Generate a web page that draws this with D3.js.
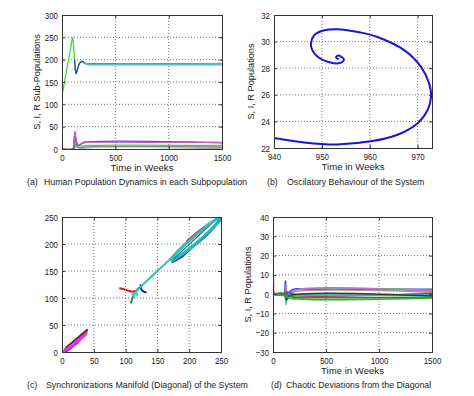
<!DOCTYPE html>
<html>
<head>
<meta charset="utf-8">
<script src="https://cdn.jsdelivr.net/npm/d3@7"></script>
<style>
body { margin: 0; background: #fff; }
svg text { font-family: "Liberation Sans", Arial, sans-serif; fill: #222; }
.grid line { stroke: #555; stroke-dasharray: 1,2; stroke-width: 0.8; }
.frame { fill: none; stroke: #333; stroke-width: 1; }
</style>
</head>
<body>
<svg id="chart" width="474" height="396"></svg>
<script>
// ---- panel (a): human population dynamics ----
const aTicksX = [0, 500, 1000, 1500];
const aTicksY = [0, 50, 100, 150, 200, 250, 300];
const aGreenS = [[0,120],[20,145],[50,185],[80,225],[100,250],[110,225],[122,185],[132,170],[145,180],[165,193],[185,196],[205,193],[230,190],[260,190],[1500,190]];
const aBlueS  = [[118,200],[125,180],[132,168],[145,178],[165,192],[190,196],[215,192],[250,191],[1500,191]];
const aGrayS  = [[200,193],[240,191],[1500,191.5]];
const aCyanS  = [[240,188.5],[1500,188.5]];
const aMagI   = [[0,0],[100,0],[108,5],[115,25],[122,40],[128,30],[138,15],[155,10],[180,12],[210,16],[240,15.5],[1500,15]];
const aBlueI  = [[0,0],[105,0],[112,10],[120,33],[127,25],[138,12],[160,8],[190,12],[220,15],[1500,14]];
const aGreenI = [[0,0],[100,0],[110,8],[118,30],[126,22],[140,8],[165,4],[200,7],[240,8],[1500,8]];
const aGrayI  = [[0,0],[110,0],[122,12],[140,5],[170,3],[220,4.5],[1500,4.5]];
const aGrayI2 = [[0,0],[120,2],[135,6],[160,2],[1500,2]];

// ---- panel (b): oscillatory behaviour ----
const bTicksX = [940, 950, 960, 970];
const bTicksY = [22, 24, 26, 28, 30, 32];
const bSpiral = [[940,22.75],[946.3,22.42],[953.2,22.27],[960.2,22.5],[965.8,23.0],[970,23.87],[972.1,24.87],[972.8,25.87],[972.4,26.86],[970.7,28.1],[967.2,29.36],[961.6,30.35],[958.1,30.68],[953.2,30.93],[950.5,30.85],[948.4,30.48],[947.7,29.86],[948.0,29.36],[949.1,28.86],[951.2,28.48],[953.2,28.36],[954.3,28.48],[954.6,28.66],[954.1,28.86],[953.2,28.93],[953,28.78],[953.5,28.66]];

// ---- panel (c): synchronization manifold ----
const cTicks = [0, 50, 100, 150, 200, 250];
const cBlue0   = [[0,0],[8,3],[16,10],[25,18]];
const cMag0    = [[2,1],[12,10],[25,22],[40,36]];
const cMag1    = [[1,0],[10,6],[22,16],[38,33]];
const cGreen0  = [[3,4],[15,15],[28,28],[40,40]];
const cRed0    = [[5,6],[18,19],[30,31],[41,42]];
const cBlack0  = [[6,8],[20,22],[32,34],[40,42]];
const cRedMid  = [[90,118],[98,116],[106,113],[112,112],[116,113]];
const cGreenMid= [[108,90],[111,100],[114,108],[118,115],[122,120]];
const cBlueMid = [[124,125],[124,118],[127,113],[133,110]];
const cCyanMid = [[110,108],[113,104],[116,110],[119,104]];
const cCyanDiag= [[112,106],[130,128],[150,150],[170,172],[190,195],[210,215],[230,235],[250,250]];
const cBlueUp  = [[172,167],[185,175],[205,195],[225,215],[245,240],[250,247]];
const cCyanUp1 = [[170,170],[185,190],[205,212],[225,232],[245,248]];
const cCyanUp2 = [[172,168],[190,182],[210,200],[230,222],[250,245]];
const cRedUp   = [[195,205],[210,220],[225,232]];
const cDarkUp  = [[175,172],[240,243]];

// ---- panel (d): deviations from the diagonal ----
const dTicksX = [0, 500, 1000, 1500];
const dTicksY = [-30, -20, -10, 0, 10, 20, 30, 40];
const dBlue   = [[0,3],[10,0.5],[100,0],[112,3],[118,7],[126,2],[140,-0.5],[170,2],[220,2.8],[330,2.6],[1500,2.5]];
const dGreen  = [[0,1],[10,0],[105,0],[115,2],[122,4],[130,1],[150,0],[200,2],[1500,2]];
const dMag    = [[0,2],[10,0],[108,0],[118,5],[126,0],[140,-2],[180,1.5],[1500,1.5]];
const dGray   = [[0,0],[110,0],[120,2],[135,-1],[180,1],[1500,1]];
const dRed    = [[0,10],[5,5],[12,0],[100,0],[120,1.5],[140,0],[1500,0.5]];
const dBlue2  = [[0,0],[110,0],[120,-2],[135,1],[200,0],[1500,0]];
const dCyan   = [[0,0],[110,0],[118,-3],[122,-5.5],[130,-2],[150,-0.5],[200,-0.5],[1500,-0.5]];
const dBlack  = [[0,0],[110,0],[120,-2],[130,-3],[145,-1],[1500,-1]];
const dDkGreen= [[0,0],[115,0],[125,-2],[140,-1],[200,-1.5],[1500,-1.5]];
const dGreen2 = [[0,0],[120,-1],[150,-2],[1500,-2]];

const svg = d3.select("#chart");
let clipN = 0;

// the original tick font is narrow; squeeze the glyphs to its width
function narrow(sel) {
  sel.attr("font-size", 9.5).attr("fill", "#222")
    .attr("lengthAdjust", "spacingAndGlyphs")
    .attr("textLength", function() {
      const s = this.textContent;
      return s.replace("-", "").length * 4.4 + (s.includes("-") ? 3 : 0);
    });
}

function panel(o) {
  const x = d3.scaleLinear().domain(o.xd).range([o.l, o.r]);
  const y = d3.scaleLinear().domain(o.yd).range([o.b, o.t]);
  const g = svg.append("g");

  // dotted grid at inner ticks
  const grid = g.append("g").attr("class", "grid");
  grid.selectAll(".gx").data(o.tx.filter(v => x(v) > o.l + 1 && x(v) < o.r - 1))
    .join("line").attr("class", "gx").attr("x1", d => x(d)).attr("x2", d => x(d)).attr("y1", o.t).attr("y2", o.b);
  grid.selectAll(".gy").data(o.ty.filter(v => y(v) > o.t + 1 && y(v) < o.b - 1))
    .join("line").attr("class", "gy").attr("y1", d => y(d)).attr("y2", d => y(d)).attr("x1", o.l).attr("x2", o.r);

  const id = "clip" + (clipN++);
  g.append("clipPath").attr("id", id).append("rect")
    .attr("x", o.l).attr("y", o.t).attr("width", o.r - o.l).attr("height", o.b - o.t);
  const lines = g.append("g").attr("clip-path", "url(#" + id + ")");
  const line = d3.line().x(d => x(d[0])).y(d => y(d[1])).curve(d3.curveCatmullRom);
  o.series.forEach(s => {
    lines.append("path").attr("d", line(s.pts)).attr("fill", "none")
      .attr("stroke", s.c).attr("stroke-width", s.w || 1.3).attr("stroke-linejoin", "round");
  });

  // inward ticks, MATLAB style
  g.append("g").attr("transform", `translate(0,${o.b})`)
    .call(d3.axisBottom(x).tickValues(o.tx).tickSize(-3).tickPadding(5).tickFormat(d3.format("d")))
    .call(a => a.select(".domain").remove());
  g.append("g").attr("transform", `translate(${o.l},0)`)
    .call(d3.axisLeft(y).tickValues(o.ty).tickSize(-3).tickPadding(4).tickFormat(d3.format("d")))
    .call(a => a.select(".domain").remove());
  g.selectAll(".tick line").attr("stroke", "#333");
  g.selectAll(".tick text").call(narrow);
  g.append("g").attr("transform", `translate(0,${o.t})`)
    .call(d3.axisTop(x).tickValues(o.tx).tickSize(-3).tickFormat(""))
    .call(a => a.select(".domain").remove()).selectAll("line").attr("stroke", "#333");
  g.append("g").attr("transform", `translate(${o.r},0)`)
    .call(d3.axisRight(y).tickValues(o.ty).tickSize(-3).tickFormat(""))
    .call(a => a.select(".domain").remove()).selectAll("line").attr("stroke", "#333");

  g.append("rect").attr("class", "frame")
    .attr("x", o.l + 0.5).attr("y", o.t + 0.5).attr("width", o.r - o.l).attr("height", o.b - o.t);

  if (o.xlabel) g.append("text").attr("x", (o.l + o.r) / 2).attr("y", o.b + 22)
    .attr("text-anchor", "middle").attr("font-size", 9.6).text(o.xlabel);
  if (o.ylabel) g.append("text").attr("transform", `translate(${o.yl},${(o.t + o.b) / 2}) rotate(-90)`)
    .attr("text-anchor", "middle").attr("font-size", 9.2).text(o.ylabel);
  g.append("text").attr("x", o.cx).attr("y", o.cy).attr("font-size", 8.8).text(o.tag);
  g.append("text").attr("x", o.cx2).attr("y", o.cy).attr("font-size", 8.8).text(o.caption);
}

panel({
  l: 62, r: 222, t: 15, b: 149, xd: [0, 1500], yd: [0, 300], tx: aTicksX, ty: aTicksY,
  xlabel: "Time in Weeks", ylabel: "S, I, R Sub-Populations", yl: 40,
  tag: "(a)", caption: "Human Population Dynamics in each Subpopulation", cx: 27, cx2: 44, cy: 185,
  series: [
    {pts: aGreenS, c: "#33dd33"}, {pts: aBlueS, c: "#3344aa"}, {pts: aGrayS, c: "#999999"},
    {pts: aCyanS, c: "#55bbdd", w: 1.6},
    {pts: aGrayI2, c: "#aaaaaa"}, {pts: aGrayI, c: "#888888"}, {pts: aGreenI, c: "#33dd33"},
    {pts: aBlueI, c: "#4455cc"}, {pts: aMagI, c: "#cc55cc"}
  ]
});

panel({
  l: 274, r: 432, t: 15, b: 148, xd: [940, 973], yd: [22, 32], tx: bTicksX, ty: bTicksY,
  xlabel: "Time in Weeks", ylabel: "S, I, R Populations", yl: 254,
  tag: "(b)", caption: "Oscilatory Behaviour of the System", cx: 267, cx2: 287, cy: 185,
  series: [{pts: bSpiral, c: "#1515dd", w: 2}]
});

panel({
  l: 62, r: 221, t: 217, b: 352, xd: [0, 250], yd: [0, 250], tx: cTicks, ty: cTicks,
  tag: "(c)", caption: "Synchronizations Manifold (Diagonal) of the System", cx: 27, cx2: 46, cy: 388,
  series: [
    {pts: cBlue0, c: "#2222ee", w: 2.5}, {pts: cMag1, c: "#ee22ee", w: 2.5}, {pts: cGreen0, c: "#22aa22", w: 2},
    {pts: cRed0, c: "#dd2222", w: 1.5}, {pts: cBlack0, c: "#333333", w: 1.5}, {pts: cMag0, c: "#ee33ee", w: 2},
    {pts: cRedMid, c: "#ee1111", w: 2}, {pts: cGreenMid, c: "#229922", w: 2}, {pts: cBlueMid, c: "#1111cc", w: 2},
    {pts: cBlueUp, c: "#1122cc", w: 3}, {pts: cCyanUp2, c: "#22bbbb", w: 3}, {pts: cCyanUp1, c: "#33cccc", w: 3},
    {pts: cDarkUp, c: "#336666", w: 1.2}, {pts: cRedUp, c: "#cc4444", w: 1.2},
    {pts: cCyanDiag, c: "#33bbbb", w: 2}, {pts: cCyanMid, c: "#33cccc", w: 2}
  ]
});

panel({
  l: 273, r: 432, t: 217, b: 352, xd: [0, 1500], yd: [-30, 40], tx: dTicksX, ty: dTicksY,
  xlabel: "Time in Weeks", ylabel: "S, I, R Populations", yl: 251,
  tag: "(d)", caption: "Chaotic Deviations from the Diagonal", cx: 271, cx2: 286, cy: 388,
  series: [
    {pts: dBlue, c: "#3344dd", w: 1.5}, {pts: dGreen, c: "#55cc55", w: 1.5}, {pts: dMag, c: "#cc66cc", w: 1.5},
    {pts: dGray, c: "#999999", w: 1.5}, {pts: dRed, c: "#dd3333", w: 1.5}, {pts: dBlue2, c: "#4455cc", w: 1.5},
    {pts: dCyan, c: "#33cccc", w: 1.5}, {pts: dBlack, c: "#333333", w: 1.5}, {pts: dDkGreen, c: "#228833", w: 1.8},
    {pts: dGreen2, c: "#33aa33", w: 1.5}
  ]
});
</script>
</body>
</html>
